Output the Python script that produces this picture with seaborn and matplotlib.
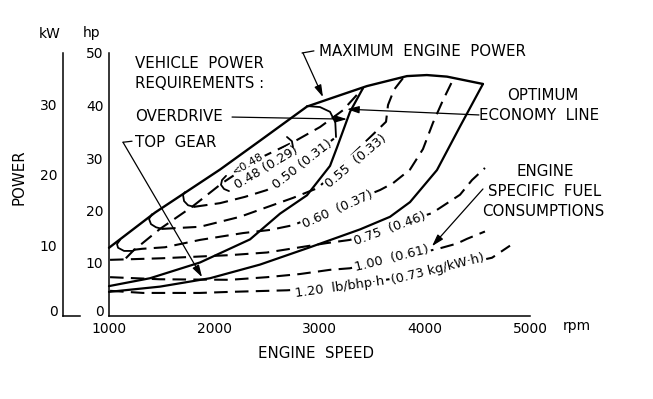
import matplotlib
matplotlib.use("Agg")
import matplotlib.pyplot as plt
import matplotlib.transforms as mtransforms
import numpy as np
import pandas as pd
import seaborn as sns

# ---------------- data (engine speed rpm, power hp) ----------------
wot_rpm = [1000, 1437, 2055, 2435, 2881, 3128, 3451, 3831, 4020, 4211, 4553]
wot_hp = [12.9, 19.6, 27.8, 33.3, 39.8, 41.5, 43.7, 45.6, 45.8, 45.5, 44.1]

top_rpm = [1000, 1485, 1960, 2435, 2910, 3385, 3670, 3860, 4116, 4335, 4553]
top_hp = [4.5, 5.5, 7.1, 9.7, 13.0, 16.4, 18.8, 21.6, 27.7, 36.0, 44.1]

od_rpm = [1000, 1390, 1865, 2340, 2625, 2881, 3100, 3166, 3290, 3413]
od_hp = [5.6, 7.1, 10.1, 14.5, 19.4, 22.9, 28.5, 32.0, 38.8, 43.3]

econ_rpm = [1160, 1228, 1485, 1789, 2074, 2435, 2748, 3005, 3223, 3413]
econ_hp = [10.9, 12.3, 16.5, 20.7, 25.2, 30.0, 33.0, 35.9, 39.1, 43.3]

c050_rpm = [1808, 2055, 2292, 2501, 3157]
c050_hp = [20.7, 21.4, 22.6, 23.9, 34.0]
c055_rpm = [1504, 1865, 2245, 2482, 2748, 2986, 3632, 3651, 3708, 3793]
c055_hp = [16.5, 16.9, 18.8, 20.5, 22.4, 24.3, 36.9, 40.1, 43.0, 45.2]
c060_rpm = [1228, 1314, 1532, 1865, 2273, 2530, 2748, 3575, 3698, 3860, 3983, 4078, 4173, 4268]
c060_hp = [12.5, 12.7, 13.0, 14.4, 15.7, 16.3, 17.2, 23.9, 25.2, 27.8, 31.7, 36.7, 41.0, 44.9]
c075_rpm = [1010, 1500, 2150, 2501, 2786, 3071, 3290, 4069, 4145, 4335, 4449, 4572]
c075_hp = [10.6, 10.9, 11.5, 12.0, 12.9, 13.8, 14.4, 19.5, 20.5, 23.0, 25.8, 28.1]
c100_rpm = [1010, 1485, 2150, 2501, 2815, 3100, 3290, 4126, 4306, 4401, 4572]
c100_hp = [7.3, 6.9, 6.8, 7.3, 7.9, 8.7, 9.0, 12.7, 13.7, 14.6, 16.0]
c120_rpm = [1010, 1323, 1865, 2150, 2691, 3195, 3690, 4135, 4639, 4810]
c120_hp = [4.7, 4.3, 4.3, 4.5, 4.8, 5.4, 7.0, 8.8, 11.0, 13.3]

# contour end arcs (solid)
arc1_rpm = [1105, 1076, 1086, 1143, 1228]
arc1_hp = [14.4, 13.6, 12.9, 12.3, 12.3]
arc2_rpm = [1409, 1380, 1399, 1447, 1504]
arc2_hp = [19.3, 18.4, 17.4, 16.8, 16.5]
arc3_rpm = [1722, 1703, 1713, 1751, 1808]
arc3_hp = [23.5, 23.0, 21.8, 21.0, 20.7]
arc4_rpm = [2112, 2074, 2064, 2093, 2140]
arc4_hp = [26.6, 25.8, 24.9, 24.1, 23.7]
arc5_rpm = [2881, 3005, 3100, 3150, 3157]
arc5_hp = [39.9, 39.7, 38.8, 36.8, 34.0]
hook_rpm = [2691, 2738, 2748]
hook_hp = [34.0, 33.2, 32.1]

contour_labels = ["<0.48", "0.48 (0.29)", "0.50 (0.31)", "0.55  (0.33)", "0.60  (0.37)",
                  "0.75  (0.46)", "1.00  (0.61)", "1.20  lb/bhp·h", "(0.73 kg/kW·h)"]
x_ticks = [1000, 2000, 3000, 4000, 5000]
hp_ticks = [0, 10, 20, 30, 40, 50]
kw_ticks = [0, 10, 20, 30]

# ---------------- layout ----------------
W, H = 653, 399
sns.set_theme(style="white")
plt.rcParams["font.family"] = ["DejaVu Sans"]
for k in ["text.color", "axes.labelcolor", "xtick.color", "ytick.color", "axes.edgecolor"]:
    plt.rcParams[k] = "black"

fig = plt.figure(figsize=(W / 100, H / 100), dpi=100)
fig.patch.set_facecolor("white")

def fx(px):
    return px / W

def fy(py):
    return 1 - py / H

AX_L, AX_R, AX_T, AX_B = 109, 530, 53, 315.5
ax = fig.add_axes([fx(AX_L), fy(AX_B), (AX_R - AX_L) / W, (AX_B - AX_T) / H])
ax.set_xlim(1000, 5000)
ax.set_ylim(0, 50)
ax.patch.set_alpha(0)

lab_x, lab_y, lab_rot, lab_fs = (
    [2321, 2492, 2834, 3347, 3176, 3670, 3689, 3195, 4125],
    [28.9, 28.1, 28.7, 29.4, 20.1, 16.5, 10.9, 5.4, 8.8],
    [30, 31, 38, 40, 24, 20, 14, 8, 14],
    [8.0, 9.3, 9.3, 9.3, 9.3, 9.3, 9.3, 9.3, 9.3],
)

DASH = (0, (6.5, 3.5))

def draw(xs, ys, dashed=False, lw=1.6, z=4):
    df = pd.DataFrame({"rpm": xs, "hp": ys})
    sns.lineplot(data=df, x="rpm", y="hp", sort=False, estimator=None, ax=ax,
                 color="black", lw=lw, linestyle=DASH if dashed else "-",
                 zorder=z, legend=False, dash_capstyle="butt",
                 solid_capstyle="round", solid_joinstyle="round", clip_on=False)

# dashed contours (under labels)
for xs, ys in [(econ_rpm, econ_hp), (c050_rpm, c050_hp), (c055_rpm, c055_hp),
               (c060_rpm, c060_hp), (c075_rpm, c075_hp), (c100_rpm, c100_hp),
               (c120_rpm, c120_hp)]:
    draw(xs, ys, dashed=True, lw=1.5, z=2)

# solid curves
draw(wot_rpm, wot_hp, lw=1.7)
draw(top_rpm, top_hp, lw=1.6)
draw(od_rpm, od_hp, lw=1.6)
for xs, ys in [(arc1_rpm, arc1_hp), (arc2_rpm, arc2_hp), (arc3_rpm, arc3_hp),
               (arc4_rpm, arc4_hp), (arc5_rpm, arc5_hp), (hook_rpm, hook_hp)]:
    draw(xs, ys, lw=1.3)

# contour labels
for s, x, y, r, f in zip(contour_labels, lab_x, lab_y, lab_rot, lab_fs):
    ax.text(x, y, s, rotation=r, rotation_mode="anchor", ha="center", va="center",
            fontsize=f, zorder=3,
            bbox=dict(boxstyle="square,pad=0.12", fc="white", ec="none"))

# leader arrows
arrow_kw = dict(arrowstyle="-|>,head_length=0.6,head_width=0.18", lw=0.9, color="black",
                shrinkA=0, shrinkB=0)
arrows = [((2843, 50.0), (3033, 41.6)),
          ((2169, 37.8), (3261, 37.4)),
          ((1133, 33.0), (1884, 7.3)),
          ((4515, 38.2), (3261, 39.3)),
          ((4553, 24.1), (4069, 13.2))]
for tail, head in arrows:
    ax.annotate("", xy=head, xytext=tail, arrowprops=arrow_kw,
                annotation_clip=False, zorder=5)
ax.plot([2834, 2947], [50.0, 50.4], color="black", lw=0.9, clip_on=False)
ax.plot([1133, 1219], [33.0, 33.2], color="black", lw=0.9, clip_on=False)

# axes styling
for side in ["top", "right"]:
    ax.spines[side].set_visible(False)
for side in ["left", "bottom"]:
    ax.spines[side].set_linewidth(1.1)
    ax.spines[side].set_color("black")
ax.set_xticks(x_ticks)
ax.set_xticklabels([str(v) for v in x_ticks])
ax.set_yticks(hp_ticks)
ax.set_yticklabels([str(v) for v in hp_ticks])
ax.tick_params(axis="x", direction="in", length=11.5, width=1.0, pad=5, labelsize=10)
ax.tick_params(axis="y", direction="in", length=11.5, width=1.0, pad=4, labelsize=10)
ax.xaxis.get_major_ticks()[0].tick1line.set_visible(False)
for t in ax.yaxis.get_major_ticks()[:2]:
    t.tick1line.set_visible(False)
ax.set_xlabel("")
ax.set_ylabel("")

# kW axis
axk = fig.add_axes([fx(63), fy(AX_B), 17 / W, (AX_B - AX_T) / H])
axk.set_ylim(0, 50 * 0.7457)
axk.set_xlim(0, 1)
axk.patch.set_alpha(0)
for side in ["top", "right"]:
    axk.spines[side].set_visible(False)
for side in ["left", "bottom"]:
    axk.spines[side].set_linewidth(1.1)
    axk.spines[side].set_color("black")
axk.set_xticks([])
axk.set_yticks(kw_ticks)
axk.set_yticklabels([str(v) for v in kw_ticks])
axk.tick_params(axis="y", direction="in", length=11.5, width=1.0, pad=4, labelsize=10)
axk.yaxis.get_major_ticks()[0].tick1line.set_visible(False)

# raise the two "0" power labels a little, as in the reference
fig.canvas.draw()
lift = mtransforms.ScaledTranslation(0, 5 / 100, fig.dpi_scale_trans)
for a in (ax, axk):
    lbl = a.yaxis.get_major_ticks()[0].label1
    lbl.set_transform(lbl.get_transform() + lift)

# texts
FS = 10.8
def ftext(px, py, s, ha="left", rot=0, fs=FS):
    fig.text(fx(px), fy(py), s, ha=ha, va="center", rotation=rot, fontsize=fs)

ftext(135, 64, "VEHICLE  POWER")
ftext(135, 84, "REQUIREMENTS :")
ftext(135, 117, "OVERDRIVE")
ftext(135, 142.5, "TOP  GEAR")
ftext(319, 51, "MAXIMUM  ENGINE  POWER")
ftext(543, 96, "OPTIMUM", ha="center")
ftext(539, 116, "ECONOMY  LINE", ha="center")
ftext(545, 172, "ENGINE", ha="center")
ftext(545, 192, "SPECIFIC  FUEL", ha="center")
ftext(543, 211, "CONSUMPTIONS", ha="center")
ftext(50, 34, "kW", ha="center", fs=10)
ftext(92, 33, "hp", ha="center", fs=10)
ftext(19, 177, "POWER", ha="center", rot=90)
ftext(316, 354, "ENGINE  SPEED", ha="center")
ftext(577, 326, "rpm", ha="center", fs=10)

fig.savefig("out.png", dpi=100, facecolor="white")
